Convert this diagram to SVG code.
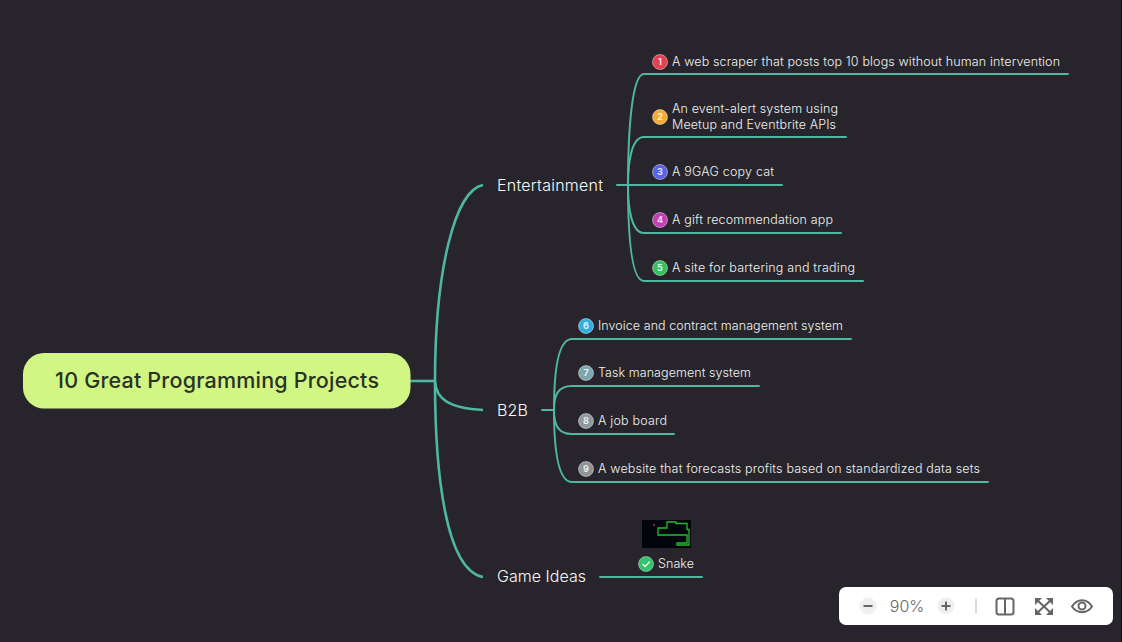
<svg xmlns="http://www.w3.org/2000/svg" width="1122" height="642" viewBox="0 0 1122 642">
<defs><style>
text{font-family:"Inter","Noto Sans","Liberation Sans",sans-serif;fill:#f2f2f2}
.leaf{font-size:12.5px;font-weight:350}
.branch{font-size:16px;font-weight:300;fill:#fafafa}
.root{font-size:21.5px;font-weight:500;fill:#2a3222}
.num{font-size:9px;font-weight:700;fill:#fff;text-anchor:middle;fill-opacity:.85}
.c{fill:none;stroke:#4fb6a3;stroke-width:2;stroke-linecap:round}
.c3{fill:none;stroke:#4fb6a3;stroke-width:2.6}
.tool{fill:none;stroke:#666;stroke-width:2}
.badge{stroke:#fff;stroke-opacity:.55;stroke-width:.8}
</style></defs>
<rect width="1122" height="642" fill="#27252b"/>
<g id="connectors">
<path class="c3" d="M410 381H435"/>
<path class="c3" d="M483 185C455 190 435 270 435 381"/>
<path class="c3" d="M435 381C436 400 450 408 483 410"/>
<path class="c3" d="M435 381C435 470 445 570 483 577"/>
<path class="c" d="M617 185H628"/>
<path class="c" d="M628 185C628 130 632 74 644 74H1068"/>
<path class="c" d="M628 185C628 160 632 137 644 137H846"/>
<path class="c" d="M628 185H782"/>
<path class="c" d="M628 185C628 210 632 233 644 233H841"/>
<path class="c" d="M628 185C628 240 632 281 644 281H863"/>
<path class="c" d="M542 410H554"/>
<path class="c" d="M554 410C554 370 558 339 572 339H851"/>
<path class="c" d="M554 410C554 395 558 386 572 386H759"/>
<path class="c" d="M554 410C554 425 558 434 572 434H674"/>
<path class="c" d="M554 410C554 450 558 482 572 482H988"/>
<path class="c" d="M600 577H702"/>
</g>
<g id="root"><rect x="23" y="353" width="387.500" height="55.500" rx="21" fill="#d2f684"/><text class="root" x="55" y="388" textLength="324">10 Great Programming Projects</text></g>
<g id="entertainment"><text class="branch" x="497" y="191" textLength="106">Entertainment</text></g>
<g id="b2b"><text class="branch" x="497" y="416" textLength="31">B2B</text></g>
<g id="game-ideas"><text class="branch" x="497" y="582" textLength="89">Game Ideas</text></g>
<g id="item1"><circle class="badge" cx="660" cy="62" r="7.500" fill="#e5404f"/><text class="num" x="660" y="65.300">1</text><text class="leaf" x="672" y="66" textLength="388">A web scraper that posts top 10 blogs without human intervention</text></g>
<g id="item2"><circle class="badge" cx="660" cy="117" r="7.500" fill="#f5ac36"/><text class="num" x="660" y="120.300">2</text><text class="leaf" x="672" y="113" textLength="166">An event-alert system using</text><text class="leaf" x="672" y="129" textLength="164">Meetup and Eventbrite APIs</text></g>
<g id="item3"><circle class="badge" cx="660" cy="172" r="7.500" fill="#5a63e8"/><text class="num" x="660" y="175.300">3</text><text class="leaf" x="672" y="176" textLength="102">A 9GAG copy cat</text></g>
<g id="item4"><circle class="badge" cx="660" cy="220" r="7.500" fill="#c23fb5"/><text class="num" x="660" y="223.300">4</text><text class="leaf" x="672" y="224" textLength="161">A gift recommendation app</text></g>
<g id="item5"><circle class="badge" cx="660" cy="268" r="7.500" fill="#36c05f"/><text class="num" x="660" y="271.300">5</text><text class="leaf" x="672" y="272" textLength="183">A site for bartering and trading</text></g>
<g id="item6"><circle class="badge" cx="586" cy="326" r="7.500" fill="#33aee0"/><text class="num" x="586" y="329.300">6</text><text class="leaf" x="598" y="330" textLength="245">Invoice and contract management system</text></g>
<g id="item7"><circle class="badge" cx="586" cy="373" r="7.500" fill="#7da6ae"/><text class="num" x="586" y="376.300">7</text><text class="leaf" x="598" y="377" textLength="153">Task management system</text></g>
<g id="item8"><circle class="badge" cx="586" cy="421" r="7.500" fill="#8d9a9f"/><text class="num" x="586" y="424.300">8</text><text class="leaf" x="598" y="425" textLength="69">A job board</text></g>
<g id="item9"><circle class="badge" cx="586" cy="469" r="7.500" fill="#8f9496"/><text class="num" x="586" y="472.300">9</text><text class="leaf" x="598" y="473" textLength="382">A website that forecasts profits based on standardized data sets</text></g>
<g id="snake">
<rect x="642" y="520" width="49" height="28" fill="#02040c"/>
<path d="M667 522H676V523.500H687V529.500H689V545H677V543H687V535H658V528H667Z" fill="none" stroke="#22bd2e" stroke-width="1.300"/>
<circle cx="654" cy="525" r="0.900" fill="#c33"/>
<circle cx="646" cy="564" r="7.500" fill="#33c46b" stroke="#fff" stroke-opacity=".5" stroke-width=".8"/><path d="M642.500 564l2.600 2.600 4.600-5" fill="none" stroke="#fff" stroke-width="1.400"/>
<text class="leaf" x="658" y="568" textLength="36">Snake</text></g>
<g id="toolbar">
<rect x="839" y="587" width="274" height="38" rx="7" fill="#fff"/>
<circle cx="868" cy="606" r="8.500" fill="#efefef"/><path class="tool" d="M863.500 606H872.500"/>
<text x="907" y="612" text-anchor="middle" style="font-size:16px;font-weight:300;fill:#666">90%</text>
<circle cx="946" cy="606" r="8.500" fill="#efefef"/><path class="tool" d="M941.500 606H950.500M946 601.500V610.500"/>
<path d="M976 598.500V613.500" stroke="#ccc" stroke-width="1.500"/>
<rect x="996.500" y="598.500" width="17" height="16" rx="2.500" class="tool"/><path class="tool" d="M1005 598.500V614.500"/>
<path class="tool" d="M1036 599L1052 614M1052 599L1036 614"/>
<path d="M1035 598h7l-7 7zM1053 598h-7l7 7zM1035 615h7l-7-7zM1053 615h-7l7-7z" fill="#666"/>
<path class="tool" d="M1072 606.500C1077 598 1087 598 1092 606.500C1087 614 1077 614 1072 606.500Z"/><circle class="tool" cx="1082" cy="606" r="3.500"/>
</g>
<path d="M1121.500 0V642" stroke="#101012" stroke-width="1"/>
</svg>
